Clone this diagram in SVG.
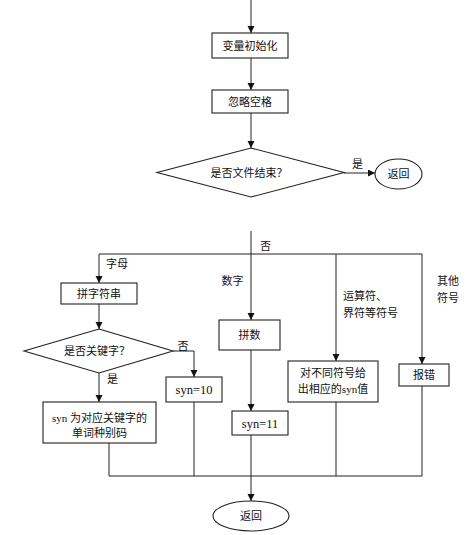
<svg xmlns="http://www.w3.org/2000/svg" width="474" height="535" viewBox="0 0 474 535">
<style>
.b{fill:#fff;stroke:#222;stroke-width:1.1}
.c{fill:none;stroke:#222;stroke-width:1}
text{font-family:"Liberation Serif","Noto Sans CJK SC",serif;font-size:11px;fill:#111}
.m{text-anchor:middle}
.s{font-size:12.5px}
</style>
<defs>
<marker id="a" markerUnits="userSpaceOnUse" markerWidth="8" markerHeight="8" refX="7" refY="3.5" orient="auto">
<path d="M0,0 L7,3.5 L0,7 Z" fill="#111"/>
</marker>
</defs>
<rect width="474" height="535" fill="#fff"/>
<g id="connectors" class="c">
<path d="M251,0 V33" marker-end="url(#a)"/>
<path d="M251,58 V90" marker-end="url(#a)"/>
<path d="M251,113 V148" marker-end="url(#a)"/>
<path d="M344,173 H375" marker-end="url(#a)"/>
<path d="M251,231 V254"/>
<path d="M99,254 H422"/>
<path d="M99,254 V283" marker-end="url(#a)"/>
<path d="M251,254 V320" marker-end="url(#a)"/>
<path d="M336,254 V361" marker-end="url(#a)"/>
<path d="M422,254 V364" marker-end="url(#a)"/>
<path d="M99,304 V329" marker-end="url(#a)"/>
<path d="M173,351 H194 V377" marker-end="url(#a)"/>
<path d="M99,373 V402" marker-end="url(#a)"/>
<path d="M251,350 V411" marker-end="url(#a)"/>
<path d="M109,443 V476"/>
<path d="M194,402 V476"/>
<path d="M336,402 V476"/>
<path d="M422,386 V476"/>
<path d="M109,476 H422"/>
<path d="M251,435 V501" marker-end="url(#a)"/>
</g>
<g id="labels">
<text x="357.5" y="168" class="m">是</text>
<text x="265.5" y="250" class="m">否</text>
<text x="106" y="268">字母</text>
<text x="232.5" y="285" class="m">数字</text>
<text x="343" y="300">运算符、</text>
<text x="343" y="317">界符等符号</text>
<text x="437" y="285">其他</text>
<text x="437" y="302">符号</text>
<text x="183" y="350" class="m">否</text>
<text x="107" y="383">是</text>
</g>
<g id="n_init"><rect class="b" x="212" y="33" width="76" height="25"/><text x="250" y="49.5" class="m">变量初始化</text></g>
<g id="n_skip"><rect class="b" x="212" y="90" width="76" height="23"/><text x="250" y="105.5" class="m">忽略空格</text></g>
<g id="n_eof"><path class="b" d="M251,148 L344,172.5 L251,197 L157,172.5 Z"/><text x="249" y="176.5" class="m">是否文件结束？</text></g>
<g id="n_ret1"><ellipse class="b" cx="398.5" cy="174" rx="23.5" ry="15"/><text x="398.5" y="178" class="m">返回</text></g>
<g id="n_word"><rect class="b" x="61" y="283" width="76" height="21"/><text x="99" y="297.5" class="m">拼字符串</text></g>
<g id="n_kw"><path class="b" d="M99,329 L173,351 L99,373 L24,351 Z"/><text x="97" y="355" class="m">是否关键字？</text></g>
<g id="n_syn10"><rect class="b" x="166" y="377" width="56" height="25"/><text x="194" y="394" class="m s">syn=10</text></g>
<g id="n_kwcode"><rect class="b" x="43" y="402" width="113" height="41"/><text x="99.5" y="422" class="m">syn 为对应关键字的</text><text x="99.5" y="436.5" class="m">单词种别码</text></g>
<g id="n_num"><rect class="b" x="219" y="320" width="61" height="30"/><text x="249.5" y="339" class="m">拼数</text></g>
<g id="n_syn11"><rect class="b" x="232" y="411" width="56" height="24"/><text x="260" y="427.5" class="m s">syn=11</text></g>
<g id="n_op"><rect class="b" x="288" y="361" width="90" height="41"/><text x="333" y="376.5" class="m">对不同符号给</text><text x="333" y="392.5" class="m">出相应的syn值</text></g>
<g id="n_err"><rect class="b" x="399" y="364" width="50" height="22"/><text x="424" y="379" class="m">报错</text></g>
<g id="n_ret2"><ellipse class="b" cx="251" cy="516" rx="38" ry="15"/><text x="251" y="520" class="m">返回</text></g>
</svg>
